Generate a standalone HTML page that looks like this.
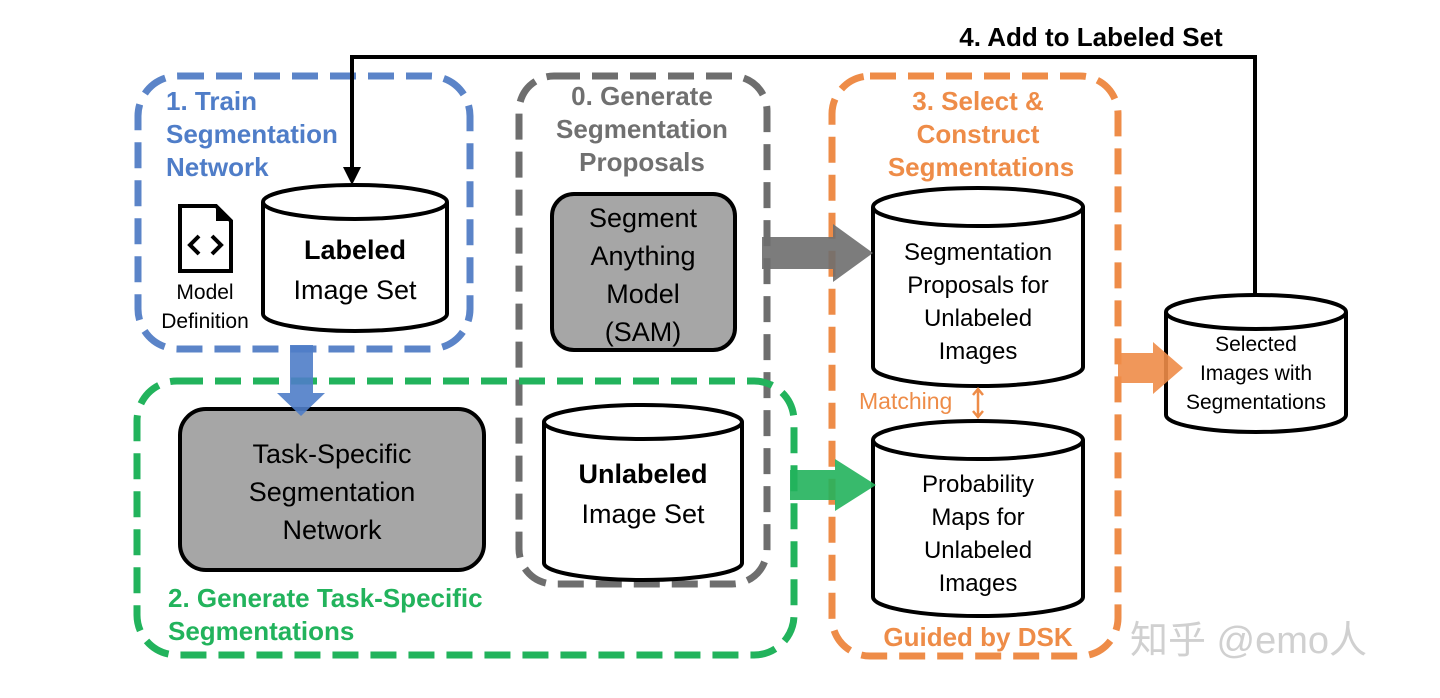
<!DOCTYPE html>
<html><head><meta charset="utf-8"><style>
html,body{margin:0;padding:0;background:#fff;width:1440px;height:698px;overflow:hidden}
text{font-family:"Liberation Sans","Noto Sans CJK SC",sans-serif}
</style></head><body>
<svg width="1440" height="698" viewBox="0 0 1440 698" xmlns="http://www.w3.org/2000/svg">
<defs>
<marker id="ah" markerWidth="18" markerHeight="18" refX="9" refY="9" orient="auto" markerUnits="userSpaceOnUse"><path d="M0,0 L18,9 L0,18 z" fill="#000"/></marker>
</defs>
<rect x="138" y="76" width="332" height="273" rx="40" fill="none" stroke="#5b84c8" stroke-width="7" stroke-dasharray="26,12"/>
<rect x="519" y="76" width="248" height="508" rx="35" fill="none" stroke="#6e6e6e" stroke-width="7" stroke-dasharray="26,12"/>
<rect x="832" y="76" width="286" height="580" rx="38" fill="none" stroke="#ee8c48" stroke-width="7" stroke-dasharray="26,12"/>
<rect x="137" y="381" width="657" height="274" rx="40" fill="none" stroke="#22b35c" stroke-width="7" stroke-dasharray="26,12"/>

<polyline points="1255,297 1255,57 352,57 352,176" fill="none" stroke="#000" stroke-width="4" marker-end="url(#ah)"/>
<text x="1091" y="46" font-size="26" font-weight="bold" text-anchor="middle">4. Add to Labeled Set</text>

<g font-size="26" font-weight="bold" fill="#4f7dc8">
<text x="166" y="110">1. Train</text><text x="166" y="143">Segmentation</text><text x="166" y="176">Network</text></g>
<g font-size="26" font-weight="bold" fill="#707070" text-anchor="middle">
<text x="642" y="105">0. Generate</text><text x="642" y="138">Segmentation</text><text x="642" y="171">Proposals</text></g>
<g font-size="26" font-weight="bold" fill="#ee8c48" text-anchor="middle">
<text x="978" y="110">3. Select &amp;</text><text x="978" y="143">Construct</text><text x="981" y="176">Segmentations</text>
<text x="978" y="646">Guided by DSK</text></g>
<g font-size="26" font-weight="bold" fill="#22b35c">
<text x="168" y="607">2. Generate Task-Specific</text><text x="168" y="640">Segmentations</text></g>

<path d="M180,206 L216,206 L231,221 L231,271 L180,271 Z" fill="#fff" stroke="#000" stroke-width="4"/>
<path d="M216,206 L216,221 L231,221 Z" fill="#000"/>
<path d="M199,236 L190,245 L199,254 M212,236 L221,245 L212,254" fill="none" stroke="#000" stroke-width="4"/>
<text x="205" y="299" font-size="21" text-anchor="middle">Model</text>
<text x="205" y="328" font-size="21" text-anchor="middle">Definition</text>

<g stroke="#000" stroke-width="4" fill="#fff">
<path d="M263,202 L263,314 A92,17 0 0 0 447,314 L447,202"/><ellipse cx="355" cy="202" rx="92" ry="17"/>
<path d="M544,422 L544,563 A99,17 0 0 0 742,563 L742,422"/><ellipse cx="643" cy="422" rx="99" ry="17"/>
<path d="M873,207 L873,367 A105,19 0 0 0 1083,367 L1083,207"/><ellipse cx="978" cy="207" rx="105" ry="19"/>
<path d="M873,440 L873,597 A105,19 0 0 0 1083,597 L1083,440"/><ellipse cx="978" cy="440" rx="105" ry="19"/>
<path d="M1166,312 L1166,415 A90,17 0 0 0 1346,415 L1346,312"/><ellipse cx="1256" cy="312" rx="90" ry="17"/>
</g>
<text x="355" y="259" font-size="27" font-weight="bold" text-anchor="middle">Labeled</text>
<text x="355" y="299" font-size="27" text-anchor="middle">Image Set</text>
<text x="643" y="483" font-size="27" font-weight="bold" text-anchor="middle">Unlabeled</text>
<text x="643" y="523" font-size="27" text-anchor="middle">Image Set</text>
<g font-size="24" text-anchor="middle">
<text x="978" y="260">Segmentation</text><text x="978" y="293">Proposals for</text><text x="978" y="326">Unlabeled</text><text x="978" y="359">Images</text>
<text x="978" y="492">Probability</text><text x="978" y="525">Maps for</text><text x="978" y="558">Unlabeled</text><text x="978" y="591">Images</text>
</g>
<g font-size="21" text-anchor="middle">
<text x="1256" y="351">Selected</text><text x="1256" y="380">Images with</text><text x="1256" y="409">Segmentations</text></g>

<rect x="552" y="194" width="183" height="156" rx="22" fill="#a6a6a6" stroke="#000" stroke-width="4"/>
<g font-size="27" text-anchor="middle"><text x="643" y="227">Segment</text><text x="643" y="265">Anything</text><text x="643" y="303">Model</text><text x="643" y="341">(SAM)</text></g>
<rect x="180" y="409" width="304" height="161" rx="26" fill="#a6a6a6" stroke="#000" stroke-width="4"/>
<g font-size="27" text-anchor="middle"><text x="332" y="463">Task-Specific</text><text x="332" y="501">Segmentation</text><text x="332" y="539">Network</text></g>

<path d="M290,345 L313,345 L313,393 L325,393 L301,416 L277,393 L290,393 Z" fill="#4f7dc8" opacity="0.9"/>
<path d="M762,237 L833,237 L833,224 L873,253 L833,282 L833,269 L762,269 Z" fill="#6e6e6e" opacity="0.9"/>
<path d="M790,470 L835,470 L835,459 L876,485 L835,511 L835,500 L790,500 Z" fill="#22b35c" opacity="0.9"/>
<path d="M1118,353 L1153,353 L1153,342 L1183,368 L1153,394 L1153,383 L1118,383 Z" fill="#ee8c48" opacity="0.9"/>

<text x="859" y="409" font-size="23" fill="#ee8c48">Matching</text>
<path d="M978,389 L978,417 M973,395 L978,389 L983,395 M973,411 L978,417 L983,411" stroke="#ee8c48" stroke-width="2.5" fill="none"/>

<text x="1130" y="653" font-size="38" fill="#d0d0d0">知乎 @emo人</text>
</svg>
</body></html>
